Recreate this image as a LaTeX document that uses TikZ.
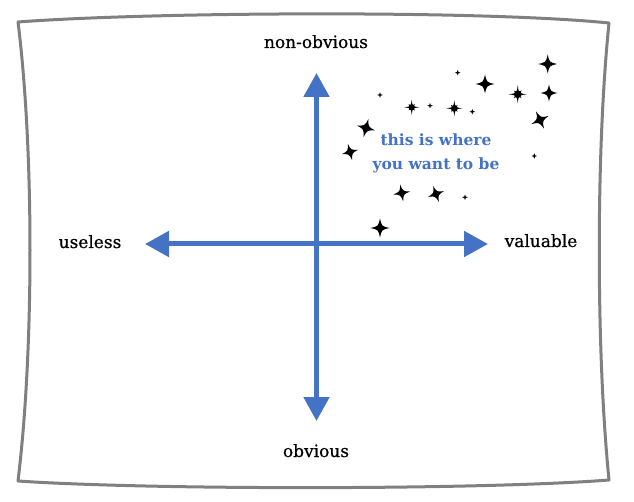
\documentclass[tikz,border=0pt]{standalone}
\usepackage{fontspec}
\setmainfont{DejaVu Serif}
\newfontfamily\heavy{DejaVu Serif}[FakeBold=0.7]
\usetikzlibrary{arrows.meta}
\definecolor{axisblue}{HTML}{4472C4}
\definecolor{framegray}{HTML}{808080}

\begin{document}
\begin{tikzpicture}
[x=1pt,y=-1pt,
  axis/.style={draw=axisblue,line width=5pt,-{Triangle[width=25pt,length=24pt]}},
  tag/.style={font=\heavy\fontsize{17}{20}\selectfont,anchor=base,inner sep=0pt},
  goal/.style={font=\bfseries\fontsize{15.5}{24}\selectfont,text=axisblue,align=center,inner sep=0pt},
  sparkle/.pic={\fill (0:1) \foreach \a in {0,90,180,270} { .. controls (\a+45:0.26) .. (\a+90:1)} -- cycle;},
  twinkle/.pic={\fill (0:1) \foreach \a in {0,90,180,270} { .. controls (\a+22.5:0.26) .. (\a+45:0.6) .. controls (\a+67.5:0.26) .. (\a+90:1)} -- cycle;}]

\useasboundingbox (0,0) rectangle (634,502);

% frame
\draw [framegray,line width=3pt,line join=round]
  (18,22) .. controls (150,12) and (480,10) .. (609,23)
  .. controls (596,150) and (596,350) .. (609,480)
  .. controls (480,490) and (150,490) .. (18,481)
  .. controls (34,350) and (34,150) .. cycle;

% axes
\coordinate (o) at (316.5,244);
\coordinate (n) at (316.5,73);
\coordinate (s) at (316.5,421);
\coordinate (w) at (145,244);
\coordinate (e) at (488,244);
\draw [axis] (o) -- (n);
\draw [axis] (o) -- (s);
\draw [axis] (o) -- (w);
\draw [axis] (o) -- (e);

\node [tag] (nonobvious) at (316,48) {non-obvious};
\node [tag] (obvious) at (316,457) {obvious};
\node [tag] (useless) at (90,248) {useless};
\node [tag] (valuable) at (541,247) {valuable};
\node [goal] (goal) at (436,153) {this is where\\you want to be};

% stars
\foreach \x/\y/\r/\a in {547.7/64/9.5/0, 485/84/9.5/0, 549/93/8.5/0, 540/120/9.5/25,
    366/128/9.5/-15, 350/152/8.5/15, 401.7/193/8.5/10, 436/194/8.5/20, 380/228/9.5/0,
    457.7/72.7/2.8/0, 380/95/2.8/0, 430/105.7/2.8/0, 472.3/111.7/2.8/0,
    534.3/156/2.8/0, 465/197.3/2.8/0}
  \pic [scale=\r,rotate=\a] at (\x,\y) {sparkle};
\foreach \x/\y/\r in {517.7/94.3/9, 411.7/107.3/7.5, 454.3/108.3/8}
  \pic [scale=\r] at (\x,\y) {twinkle};
\end{tikzpicture}
\end{document}
